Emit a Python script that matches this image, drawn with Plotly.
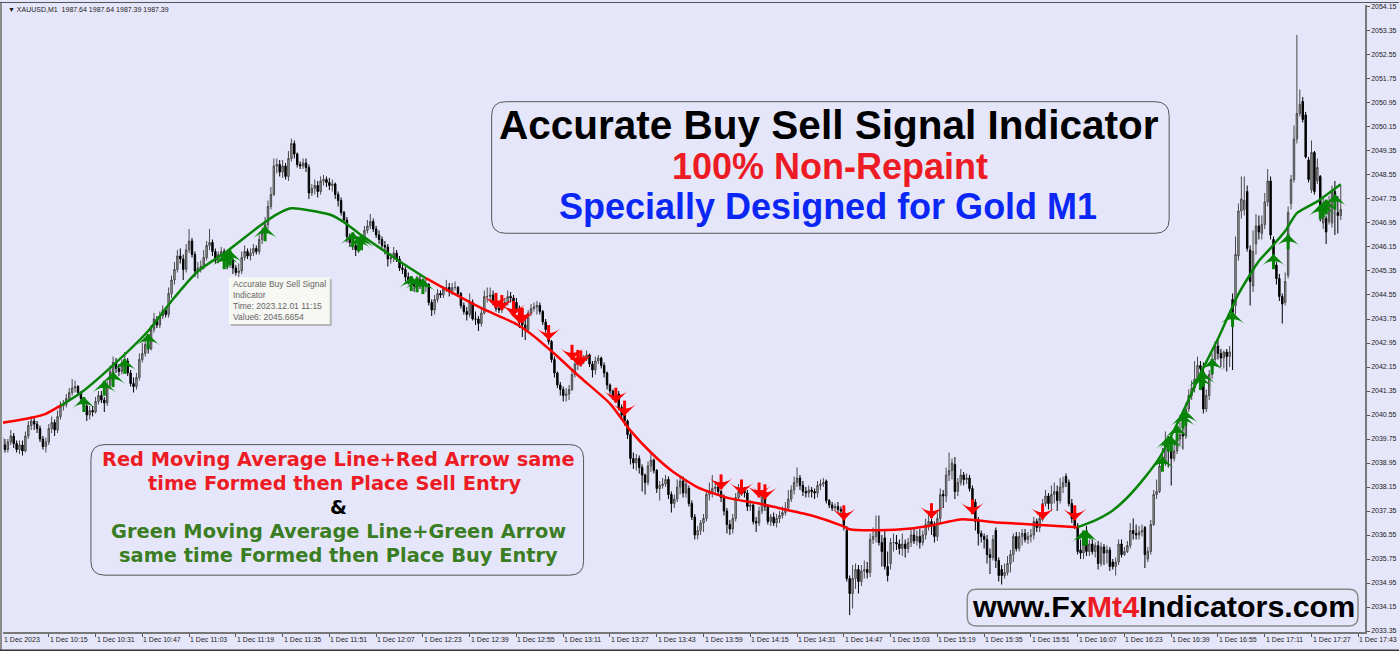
import plotly.graph_objects as go

# prices are stored minus this base to keep the lists short
PRICE_BASE = 2000

bar_open = [
    39.80, 39.55, 39.40, 39.65, 39.85, 39.60, 39.40, 39.55, 39.35, 39.85,
    40.20, 40.35, 40.25, 40.10, 39.75, 39.50, 39.65, 40.10, 40.30, 40.05,
    40.50, 40.85, 40.90, 41.10, 41.30, 41.45, 41.50, 41.30, 41.10, 40.85,
    40.55, 40.70, 40.65, 41.00, 41.20, 41.05, 40.95, 41.55, 42.00, 42.30,
    42.10, 42.00, 42.20, 42.35, 41.95, 41.60, 41.50, 41.80, 42.40, 42.60,
    42.90, 42.75, 43.40, 43.75, 43.55, 43.85, 44.05, 43.90, 44.60, 45.05,
    45.40, 45.85, 45.75, 45.40, 46.05, 46.35, 45.90, 45.35, 45.45, 45.50,
    45.80, 46.20, 46.30, 46.00, 45.70, 45.90, 46.00, 45.80, 45.55, 45.70,
    45.45, 45.30, 45.35, 45.80, 46.00, 45.85, 45.95, 46.10, 46.00, 46.40,
    46.60, 46.90, 47.50, 47.90, 48.85, 48.90, 48.65, 48.85, 48.50, 49.10,
    49.60, 49.25, 48.90, 48.85, 48.95, 48.80, 47.95, 48.10, 48.20, 48.00,
    48.35, 48.40, 48.30, 48.20, 48.25, 47.90, 47.70, 47.30, 47.05, 46.50,
    46.30, 46.20, 46.05, 46.30, 46.40, 46.70, 46.85, 47.00, 46.75, 46.55,
    46.40, 46.20, 46.15, 45.75, 45.80, 45.95, 45.75, 45.45, 45.40, 45.15,
    45.00, 44.95, 44.85, 45.05, 44.95, 44.85, 44.90, 44.30, 44.05, 44.40,
    44.60, 44.55, 44.75, 44.80, 44.65, 44.80, 44.80, 44.60, 44.20, 44.00,
    43.90, 44.30, 43.75, 43.75, 43.60, 43.95, 44.50, 44.50, 44.55, 44.30,
    44.10, 44.05, 44.20, 44.30, 44.50, 44.45, 44.30, 44.10, 43.70, 43.55,
    43.40, 43.95, 44.10, 44.15, 44.20, 44.00, 43.65, 43.40, 43.00, 42.40,
    41.95, 41.55, 41.40, 41.20, 41.25, 41.40, 41.90, 42.25, 42.30, 42.40,
    42.45, 42.55, 42.25, 42.05, 42.35, 42.45, 42.20, 41.95, 41.55, 41.35,
    41.15, 41.25, 40.80, 40.55, 40.35, 39.90, 39.10, 38.95, 39.10, 38.80,
    38.55, 38.30, 38.85, 39.05, 38.70, 38.10, 38.20, 38.25, 38.40, 37.90,
    37.60, 37.75, 38.15, 38.35, 37.95, 38.10, 37.60, 37.15, 36.55, 36.70,
    36.95, 37.10, 37.90, 38.00, 38.10, 38.15, 38.00, 37.80, 37.35, 36.90,
    36.75, 37.10, 37.80, 38.00, 38.10, 37.95, 37.50, 37.55, 37.00, 36.95,
    37.35, 37.90, 37.50, 37.00, 37.15, 36.95, 37.10, 37.20, 37.30, 37.45,
    37.75, 38.05, 38.30, 38.45, 38.20, 38.00, 37.95, 38.05, 38.00, 37.95,
    38.20, 38.25, 38.35, 37.70, 37.55, 37.45, 37.50, 37.40, 37.35, 36.70,
    35.10, 34.60, 35.10, 35.40, 35.00, 35.35, 35.40, 35.30, 36.40, 36.50,
    36.70, 36.30, 36.45, 35.50, 35.60, 36.30, 36.30, 36.25, 36.10, 36.25,
    36.10, 36.30, 36.55, 36.35, 36.50, 36.30, 36.55, 36.90, 37.00, 36.85,
    36.50, 37.10, 37.90, 37.85, 38.55, 38.70, 38.90, 38.00, 38.30, 38.55,
    38.40, 38.45, 38.10, 37.65, 37.05, 36.60, 36.50, 36.40, 35.90, 35.80,
    36.70, 35.70, 35.40, 35.20, 35.30, 35.60, 35.90, 36.50, 36.10, 36.50,
    36.60, 36.40, 36.50, 36.55, 37.00, 36.80, 37.10, 37.60, 37.85, 37.60,
    37.90, 38.00, 37.70, 38.15, 38.50, 38.30, 37.60, 37.10, 36.85, 36.05,
    35.95, 36.30, 36.00, 36.25, 36.00, 36.20, 35.60, 36.15, 35.95, 36.05,
    35.65, 35.50, 35.65, 36.25, 35.90, 36.00, 36.20, 36.70, 36.60, 36.55,
    36.65, 36.80, 35.75, 36.00, 36.90, 37.90, 38.00, 38.85, 39.00, 39.70,
    39.55, 39.10, 39.35, 39.75, 39.90, 39.85, 40.75, 41.20, 41.45, 41.75,
    42.20, 41.80, 40.75, 41.20, 41.90, 42.40, 42.85, 42.60, 42.45, 42.65,
    42.50, 44.40, 44.20, 45.85, 47.35, 47.40, 48.00, 46.05, 44.85, 46.25,
    46.85, 46.60, 46.90, 47.65, 48.35, 46.40, 45.55, 45.10, 44.50, 44.30,
    45.20, 47.60, 48.40, 49.75, 50.60, 51.00, 50.55, 49.05, 48.05, 49.30,
    48.35, 48.50, 46.95, 47.10, 47.00, 46.95, 48.00, 47.30, 47.20,
]
bar_high = [
    39.95, 39.75, 39.75, 40.05, 39.95, 39.70, 39.70, 39.70, 40.00, 40.35,
    40.50, 40.45, 40.35, 40.20, 39.85, 39.80, 40.25, 40.50, 40.40, 40.70,
    41.00, 41.05, 41.25, 41.45, 41.75, 41.70, 41.55, 41.35, 41.15, 40.95,
    40.85, 40.85, 41.15, 41.35, 41.35, 41.15, 41.70, 42.20, 42.50, 42.45,
    42.25, 42.40, 42.65, 42.45, 42.05, 41.80, 41.95, 42.60, 42.95, 43.10,
    43.05, 43.55, 43.95, 43.85, 44.00, 44.20, 44.15, 44.80, 45.20, 45.65,
    46.05, 46.10, 45.90, 46.25, 46.75, 46.45, 46.00, 45.65, 45.70, 46.05,
    46.35, 46.75, 46.40, 46.10, 46.00, 46.15, 46.10, 45.90, 45.90, 45.80,
    45.55, 45.60, 46.00, 46.20, 46.10, 46.10, 46.25, 46.20, 46.55, 46.80,
    47.15, 47.70, 48.15, 49.10, 49.10, 49.05, 49.05, 48.95, 49.35, 49.76,
    49.70, 49.30, 49.00, 49.10, 49.10, 48.90, 48.25, 48.40, 48.35, 48.50,
    48.55, 48.50, 48.45, 48.40, 48.30, 48.00, 47.80, 47.35, 47.15, 46.60,
    46.40, 46.30, 46.45, 46.55, 46.85, 47.05, 47.25, 47.10, 46.85, 46.70,
    46.50, 46.35, 46.25, 45.95, 46.15, 46.05, 45.85, 45.60, 45.50, 45.30,
    45.15, 45.05, 45.20, 45.25, 45.10, 45.10, 44.95, 44.40, 44.55, 44.75,
    44.70, 44.85, 45.05, 44.95, 44.95, 45.00, 44.85, 44.65, 44.30, 44.15,
    44.60, 44.40, 44.00, 43.85, 44.15, 44.70, 44.80, 44.80, 44.70, 44.45,
    44.35, 44.40, 44.45, 44.70, 44.65, 44.55, 44.45, 44.20, 43.85, 43.75,
    44.05, 44.25, 44.30, 44.35, 44.30, 44.05, 43.75, 43.50, 43.05, 42.50,
    42.00, 41.65, 41.50, 41.45, 41.55, 42.05, 42.40, 42.60, 42.60, 42.55,
    42.70, 42.60, 42.35, 42.50, 42.55, 42.50, 42.30, 42.00, 41.60, 41.40,
    41.45, 41.35, 40.90, 40.65, 40.40, 40.00, 39.30, 39.25, 39.20, 38.90,
    38.60, 39.00, 39.25, 39.10, 38.75, 38.35, 38.45, 38.55, 38.50, 38.00,
    37.90, 38.40, 38.50, 38.50, 38.40, 38.20, 37.70, 37.25, 36.85, 37.05,
    37.25, 38.05, 38.30, 38.55, 38.35, 38.20, 38.05, 37.90, 37.45, 37.05,
    37.25, 37.95, 38.25, 38.25, 38.15, 38.05, 37.70, 37.60, 37.15, 37.50,
    38.05, 38.10, 37.55, 37.25, 37.30, 37.25, 37.35, 37.50, 37.65, 38.05,
    38.20, 38.50, 38.80, 38.55, 38.35, 38.15, 38.20, 38.15, 38.10, 38.35,
    38.40, 38.45, 38.40, 37.75, 37.65, 37.60, 37.65, 37.50, 37.45, 36.85,
    35.20, 35.55, 35.60, 35.55, 35.55, 35.70, 35.65, 36.60, 36.80, 37.20,
    37.20, 36.55, 36.70, 36.00, 36.45, 36.60, 36.55, 36.40, 36.60, 36.40,
    36.45, 36.80, 36.75, 36.70, 36.75, 36.70, 37.10, 37.30, 37.10, 37.00,
    37.30, 38.10, 38.05, 38.80, 39.30, 39.10, 39.15, 38.45, 38.75, 38.65,
    38.60, 38.55, 38.20, 37.75, 37.15, 36.70, 36.60, 36.55, 36.10, 36.55,
    36.80, 35.80, 35.55, 35.60, 35.85, 36.05, 36.60, 36.65, 36.65, 36.75,
    36.75, 36.65, 36.75, 37.15, 37.10, 37.30, 37.75, 38.05, 37.95, 38.20,
    38.30, 38.20, 38.45, 38.50, 38.60, 38.40, 37.75, 37.20, 36.95, 36.40,
    36.60, 36.85, 36.40, 36.40, 36.30, 36.35, 36.30, 36.25, 36.20, 36.15,
    35.75, 35.80, 36.40, 36.40, 36.15, 36.35, 36.95, 37.10, 36.90, 36.85,
    36.90, 36.85, 36.15, 37.05, 38.05, 38.40, 39.00, 39.45, 40.00, 39.85,
    39.65, 39.60, 39.90, 40.55, 40.15, 40.95, 41.40, 41.70, 42.35, 42.50,
    42.35, 42.30, 41.40, 42.05, 42.60, 43.00, 43.05, 42.75, 42.70, 42.75,
    42.85, 44.60, 46.50, 47.60, 48.50, 48.50, 48.20, 46.20, 46.70, 47.25,
    47.20, 47.20, 47.95, 48.75, 48.50, 46.50, 45.65, 45.25, 44.60, 45.30,
    47.50, 48.55, 50.20, 53.22, 51.40, 51.15, 50.65, 49.15, 49.70, 49.35,
    49.10, 48.55, 47.80, 47.20, 47.85, 48.20, 48.35, 47.85, 48.20,
]
bar_low = [
    39.45, 39.30, 39.30, 39.55, 39.45, 39.30, 39.25, 39.20, 39.30, 39.75,
    40.05, 40.05, 39.95, 39.65, 39.40, 39.30, 39.55, 39.95, 39.85, 39.95,
    40.40, 40.70, 40.80, 41.00, 41.20, 41.30, 41.20, 41.00, 40.75, 40.35,
    40.40, 40.50, 40.60, 40.90, 40.95, 40.65, 40.85, 41.45, 41.95, 41.95,
    41.85, 41.90, 42.10, 41.85, 41.50, 41.30, 41.40, 41.70, 42.30, 42.50,
    42.60, 42.70, 43.30, 43.45, 43.45, 43.75, 43.80, 43.80, 44.45, 44.90,
    45.30, 45.60, 45.05, 45.30, 45.95, 45.80, 45.15, 45.10, 45.30, 45.40,
    45.70, 46.05, 45.85, 45.60, 45.60, 45.80, 45.65, 45.40, 45.45, 45.25,
    45.20, 45.15, 45.25, 45.70, 45.75, 45.70, 45.85, 45.90, 45.90, 46.25,
    46.40, 46.75, 47.40, 47.85, 48.60, 48.50, 48.45, 48.40, 48.35, 49.00,
    49.10, 48.80, 48.75, 48.75, 48.65, 47.75, 47.85, 47.90, 47.80, 47.90,
    48.20, 48.15, 48.05, 48.00, 47.75, 47.50, 47.20, 46.95, 46.30, 46.15,
    46.05, 45.85, 45.95, 46.20, 46.30, 46.60, 46.75, 46.65, 46.45, 46.25,
    46.10, 45.90, 45.50, 45.60, 45.65, 45.65, 45.35, 45.25, 45.00, 44.90,
    44.80, 44.65, 44.70, 44.75, 44.60, 44.65, 44.20, 43.85, 43.90, 44.30,
    44.45, 44.45, 44.65, 44.50, 44.55, 44.70, 44.55, 44.10, 43.90, 43.70,
    43.80, 43.70, 43.55, 43.35, 43.50, 43.90, 44.30, 44.35, 44.20, 44.00,
    43.95, 43.95, 44.10, 44.20, 44.30, 44.20, 44.00, 43.45, 43.15, 43.05,
    43.30, 43.85, 44.00, 43.90, 43.90, 43.55, 43.30, 42.90, 42.30, 41.80,
    41.45, 41.20, 41.00, 41.00, 41.05, 41.35, 41.80, 42.05, 42.15, 42.25,
    42.35, 42.15, 41.80, 41.90, 42.25, 42.10, 41.80, 41.40, 41.25, 41.05,
    41.00, 40.70, 40.45, 40.20, 39.75, 38.90, 38.75, 38.70, 38.60, 38.00,
    37.90, 38.20, 38.65, 38.60, 37.95, 37.70, 38.10, 38.15, 37.75, 37.30,
    37.45, 37.65, 37.90, 37.80, 37.80, 37.50, 37.05, 36.40, 36.40, 36.55,
    36.65, 37.00, 37.70, 37.80, 37.90, 37.85, 37.65, 37.20, 36.60, 36.55,
    36.60, 37.00, 37.70, 37.85, 37.80, 37.35, 37.35, 36.90, 36.65, 36.85,
    37.25, 37.35, 36.90, 36.85, 36.85, 36.80, 36.95, 37.10, 37.20, 37.35,
    37.65, 37.90, 38.15, 38.05, 37.85, 37.80, 37.80, 37.80, 37.75, 37.80,
    38.05, 38.15, 37.60, 37.45, 37.35, 37.35, 37.30, 37.15, 36.70, 35.00,
    33.88, 34.10, 34.75, 34.60, 34.85, 35.10, 35.10, 35.15, 36.25, 36.30,
    36.20, 35.50, 35.40, 35.00, 35.40, 36.00, 36.05, 35.90, 35.85, 35.80,
    35.95, 36.15, 36.25, 36.20, 36.10, 36.20, 36.40, 36.70, 36.55, 36.30,
    36.35, 36.90, 37.45, 37.65, 38.35, 38.40, 37.75, 37.85, 38.20, 38.20,
    38.25, 38.00, 37.50, 36.70, 36.20, 36.30, 36.10, 35.60, 35.25, 35.70,
    35.45, 35.00, 34.90, 35.10, 35.20, 35.30, 35.65, 36.00, 36.00, 36.20,
    36.30, 36.25, 36.30, 36.40, 36.65, 36.65, 37.00, 37.50, 37.40, 37.35,
    37.60, 37.35, 37.60, 37.95, 38.15, 37.50, 36.95, 36.75, 35.90, 35.75,
    35.75, 35.85, 35.85, 35.90, 35.80, 35.40, 35.50, 35.55, 35.60, 35.35,
    35.40, 35.20, 35.55, 35.80, 35.85, 35.95, 36.10, 36.40, 36.40, 36.40,
    36.50, 35.45, 35.65, 35.90, 36.85, 37.75, 37.95, 38.70, 38.85, 38.80,
    38.20, 39.00, 39.25, 39.55, 39.40, 39.75, 40.65, 41.05, 41.30, 41.60,
    41.90, 40.60, 40.65, 41.05, 41.75, 42.25, 42.40, 42.15, 42.10, 42.00,
    42.15, 42.05, 43.90, 45.70, 47.10, 47.20, 46.00, 44.20, 44.65, 45.90,
    46.40, 46.40, 46.75, 47.50, 46.40, 45.50, 44.90, 44.35, 43.60, 44.20,
    45.10, 47.40, 48.30, 49.60, 50.50, 50.30, 49.10, 48.30, 47.95, 47.90,
    48.25, 47.00, 46.75, 46.25, 46.90, 46.80, 46.55, 46.60, 47.05,
]
bar_close = [
    39.55, 39.40, 39.65, 39.85, 39.60, 39.40, 39.55, 39.35, 39.85, 40.20,
    40.35, 40.25, 40.10, 39.75, 39.50, 39.65, 40.10, 40.30, 40.05, 40.50,
    40.85, 40.90, 41.10, 41.30, 41.45, 41.50, 41.30, 41.10, 40.85, 40.55,
    40.70, 40.65, 41.00, 41.20, 41.05, 40.95, 41.55, 42.00, 42.30, 42.10,
    42.00, 42.20, 42.35, 41.95, 41.60, 41.50, 41.80, 42.40, 42.60, 42.90,
    42.75, 43.40, 43.75, 43.55, 43.85, 44.05, 43.90, 44.60, 45.05, 45.40,
    45.85, 45.75, 45.40, 46.05, 46.35, 45.90, 45.35, 45.45, 45.50, 45.80,
    46.20, 46.30, 46.00, 45.70, 45.90, 46.00, 45.80, 45.55, 45.70, 45.45,
    45.30, 45.35, 45.80, 46.00, 45.85, 45.95, 46.10, 46.00, 46.40, 46.60,
    46.90, 47.50, 47.90, 48.85, 48.90, 48.65, 48.85, 48.50, 49.10, 49.60,
    49.25, 48.90, 48.85, 48.95, 48.80, 47.95, 48.10, 48.20, 48.00, 48.35,
    48.40, 48.30, 48.20, 48.25, 47.90, 47.70, 47.30, 47.05, 46.50, 46.30,
    46.20, 46.05, 46.30, 46.40, 46.70, 46.85, 47.00, 46.75, 46.55, 46.40,
    46.20, 46.15, 45.75, 45.80, 45.95, 45.75, 45.45, 45.40, 45.15, 45.00,
    44.95, 44.85, 45.05, 44.95, 44.85, 44.90, 44.30, 44.05, 44.40, 44.60,
    44.55, 44.75, 44.80, 44.65, 44.80, 44.80, 44.60, 44.20, 44.00, 43.90,
    44.30, 43.75, 43.75, 43.60, 43.95, 44.50, 44.50, 44.55, 44.30, 44.10,
    44.05, 44.20, 44.30, 44.50, 44.45, 44.30, 44.10, 43.70, 43.55, 43.40,
    43.95, 44.10, 44.15, 44.20, 44.00, 43.65, 43.40, 43.00, 42.40, 41.95,
    41.55, 41.40, 41.20, 41.25, 41.40, 41.90, 42.25, 42.30, 42.40, 42.45,
    42.55, 42.25, 42.05, 42.35, 42.45, 42.20, 41.95, 41.55, 41.35, 41.15,
    41.25, 40.80, 40.55, 40.35, 39.90, 39.10, 38.95, 39.10, 38.80, 38.55,
    38.30, 38.85, 39.05, 38.70, 38.10, 38.20, 38.25, 38.40, 37.90, 37.60,
    37.75, 38.15, 38.35, 37.95, 38.25, 37.60, 37.15, 36.55, 36.70, 36.95,
    37.10, 37.90, 38.00, 38.10, 38.15, 38.00, 37.80, 37.35, 36.90, 36.75,
    37.10, 37.80, 38.00, 38.10, 37.95, 37.50, 37.55, 37.00, 36.95, 37.35,
    37.90, 37.50, 37.00, 37.15, 36.95, 37.10, 37.20, 37.30, 37.45, 37.75,
    38.05, 38.30, 38.45, 38.20, 38.00, 37.95, 38.05, 38.00, 37.95, 38.20,
    38.25, 38.30, 37.70, 37.55, 37.45, 37.50, 37.40, 37.35, 36.85, 35.10,
    34.60, 35.10, 35.40, 35.00, 35.35, 35.40, 35.30, 36.40, 36.50, 36.70,
    36.30, 36.00, 35.50, 35.20, 36.30, 36.30, 36.25, 36.10, 36.25, 36.10,
    36.30, 36.55, 36.35, 36.50, 36.30, 36.55, 36.90, 37.00, 36.85, 36.50,
    37.10, 37.90, 37.85, 38.55, 38.70, 38.95, 38.00, 38.30, 38.55, 38.40,
    38.45, 38.10, 37.65, 37.00, 36.60, 36.50, 36.40, 35.90, 35.80, 36.40,
    35.70, 35.20, 35.20, 35.30, 35.60, 35.90, 36.50, 36.10, 36.50, 36.60,
    36.40, 36.50, 36.55, 37.00, 36.80, 37.10, 37.60, 37.85, 37.60, 37.90,
    38.00, 37.70, 38.15, 38.30, 38.30, 37.60, 37.10, 36.85, 36.00, 35.95,
    36.30, 36.00, 36.25, 36.00, 36.20, 35.60, 36.15, 35.95, 36.05, 35.50,
    35.50, 35.65, 36.25, 35.90, 36.00, 36.20, 36.70, 36.60, 36.55, 36.65,
    36.70, 35.90, 36.00, 36.90, 37.90, 38.00, 38.85, 39.00, 39.70, 39.55,
    39.10, 39.35, 39.75, 39.90, 39.85, 40.75, 41.20, 41.45, 41.75, 42.20,
    42.10, 40.75, 41.20, 41.90, 42.40, 42.85, 42.60, 42.45, 42.65, 42.50,
    42.65, 43.60, 45.90, 47.35, 47.75, 47.70, 46.10, 45.00, 46.00, 46.85,
    46.65, 46.90, 47.65, 48.35, 46.55, 45.70, 45.10, 44.50, 44.25, 45.00,
    47.30, 48.40, 49.75, 50.60, 50.90, 50.40, 49.15, 48.40, 49.30, 48.00,
    48.80, 47.10, 47.55, 46.65, 47.65, 48.00, 47.70, 47.20, 47.40,
]

# moving average, split where it changes colour
ma_red1_bars = [0, 10, 15, 20]
ma_red1 = [40.29, 40.46, 40.59, 40.86]
ma_green1_bars = [20, 27, 37, 50, 58, 67, 77, 88, 94, 99, 107, 113, 118, 122, 130, 137, 145]
ma_green1 = [40.86, 41.29, 42.12, 43.35, 44.35, 45.34, 46.01, 46.84, 47.24, 47.44, 47.34, 47.20,
             46.91, 46.61, 46.07, 45.61, 45.11]
ma_red2_bars = [145, 153, 164, 176, 181, 189, 198, 208, 215, 222, 229, 238, 249, 259, 266, 277,
                287, 290, 300, 311, 318, 328, 340, 351, 368]
ma_red2 = [45.11, 44.68, 44.11, 43.58, 43.25, 42.59, 41.79, 40.93, 40.03, 39.30, 38.70, 38.14,
           37.77, 37.60, 37.44, 37.20, 36.87, 36.74, 36.71, 36.77, 36.87, 37.07, 36.97, 36.91, 36.81]
ma_green2_bars = [368, 374, 380, 385, 391, 396, 400, 405, 410, 416, 423, 430, 434, 439, 443, 450, 458]
ma_green2 = [36.81, 37.04, 37.37, 37.80, 38.47, 39.13, 39.86, 40.86, 41.93, 43.09, 44.58, 45.68,
             46.11, 46.68, 47.28, 47.67, 48.24]

# signal arrows, price is where the arrow tip sits
buy_bars = [28, 35, 38, 42, 50, 76, 77, 78, 90, 120, 122, 123, 140, 142, 144, 370, 371, 397, 399,
            400, 402, 404, 405, 410, 411, 414, 421, 435, 440, 451, 452, 453, 456]
buy_tips = [41.15, 41.69, 41.98, 42.42, 43.25, 45.91, 45.97, 46.04, 46.84, 46.64, 46.50, 46.54,
            45.18, 45.14, 45.08, 36.70, 36.70, 39.16, 39.83, 39.83, 40.19, 40.59, 40.69, 41.88,
            41.99, 42.42, 43.98, 45.91, 46.57, 47.57, 47.63, 47.73, 47.90]
sell_bars = [169, 171, 175, 177, 178, 187, 195, 197, 198, 210, 213, 246, 253, 259, 261, 288, 318,
             332, 356, 367]
sell_tips = [44.12, 44.05, 43.85, 43.62, 43.62, 43.05, 42.39, 42.22, 42.19, 40.96, 40.53, 38.07,
             37.90, 37.80, 37.74, 37.04, 37.11, 37.24, 37.07, 37.04]

tick_bars = list(range(0, 465, 16))
tick_labels = [
    "1 Dec 2023", "1 Dec 10:15", "1 Dec 10:31", "1 Dec 10:47", "1 Dec 11:03", "1 Dec 11:19",
    "1 Dec 11:35", "1 Dec 11:51", "1 Dec 12:07", "1 Dec 12:23", "1 Dec 12:39", "1 Dec 12:55",
    "1 Dec 13:11", "1 Dec 13:27", "1 Dec 13:43", "1 Dec 13:59", "1 Dec 14:15", "1 Dec 14:31",
    "1 Dec 14:47", "1 Dec 15:03", "1 Dec 15:19", "1 Dec 15:35", "1 Dec 15:51", "1 Dec 16:07",
    "1 Dec 16:23", "1 Dec 16:39", "1 Dec 16:55", "1 Dec 17:11", "1 Dec 17:27", "1 Dec 17:43",
]

BG = "#e6e6fa"
RED = "#ff0000"
GREEN = "#078407"
W, H = 1400, 651
ML, MR, MT, MB = 3, 34, 3, 19
PW, PH = W - ML - MR, H - MT - MB
X_START = 0.34


def px(x):
    return (x - ML) / PW


def py(y):
    return 1 - (y - MT) / PH


def prices(vals):
    return [PRICE_BASE + v for v in vals]


def round_box(x0, y0, x1, y1, r, color="#555555", width=1, fill=None):
    # rounded rectangle given in page pixels
    rx, ry = r / PW, r / PH
    a, b, c, d = px(x0), px(x1), py(y0), py(y1)
    path = (f"M {a + rx},{c} L {b - rx},{c} Q {b},{c} {b},{c - ry} L {b},{d + ry} Q {b},{d} {b - rx},{d} "
            f"L {a + rx},{d} Q {a},{d} {a},{d + ry} L {a},{c - ry} Q {a},{c} {a + rx},{c} Z")
    return dict(type="path", path=path, xref="paper", yref="paper", layer="above",
                line=dict(color=color, width=width), fillcolor=fill or "rgba(0,0,0,0)")


def pixel_rect(x0, y0, x1, y1, color):
    return dict(type="rect", xref="paper", yref="paper", x0=px(x0), x1=px(x1), y0=py(y0), y1=py(y1),
                line=dict(width=0), fillcolor=color, layer="above")


def label(x, y, text, size, color, family="Liberation Sans", anchor="center", **kw):
    return dict(x=px(x), y=py(y), xref="paper", yref="paper", text=text, showarrow=False,
                xanchor=anchor, yanchor="middle", align="left" if anchor == "left" else "center",
                font=dict(family=family, size=size, color=color), **kw)


fig = go.Figure()

fig.add_trace(go.Candlestick(
    x=list(range(len(bar_open))),
    open=prices(bar_open), high=prices(bar_high), low=prices(bar_low), close=prices(bar_close),
    increasing=dict(line=dict(color="#4a4a4a", width=1), fillcolor="#a6a6a6"),
    decreasing=dict(line=dict(color="#000000", width=1), fillcolor="#000000"),
    whiskerwidth=0,
))

for bars, vals, color in [(ma_red1_bars, ma_red1, RED), (ma_green1_bars, ma_green1, GREEN),
                          (ma_red2_bars, ma_red2, RED), (ma_green2_bars, ma_green2, GREEN)]:
    fig.add_trace(go.Scatter(x=bars, y=prices(vals), mode="lines",
                             line=dict(color=color, width=2.5, shape="spline", smoothing=0.6)))

# head is the marker, the shaft is a one sided error bar
fig.add_trace(go.Scatter(
    x=buy_bars, y=prices(buy_tips), mode="markers",
    marker=dict(symbol="arrow-wide", size=17, color=GREEN, angle=0),
    error_y=dict(type="constant", value=0, valueminus=0.5, symmetric=False, width=0, thickness=3, color=GREEN),
))
fig.add_trace(go.Scatter(
    x=sell_bars, y=prices(sell_tips), mode="markers",
    marker=dict(symbol="arrow-wide", size=17, color=RED, angle=180),
    error_y=dict(type="constant", value=0.5, valueminus=0, symmetric=False, width=0, thickness=3, color=RED),
))

annotations = [
    label(6, 7.5, "▼ XAUUSD,M1  1987.64 1987.64 1987.39 1987.39", 7, "#222222", anchor="left"),
    label(830, 123, "<b>Accurate Buy Sell Signal Indicator</b>", 40.5, "#000000"),
    label(831, 165, "<b>100% Non-Repaint</b>", 36, "#ed1c24"),
    label(829, 205, "<b>Specially Designed for Gold M1</b>", 36, "#0a27f5"),
    label(339, 459, "<b>Red Moving Average Line+Red Arrow same</b>", 19.4, "#ed1c24", "DejaVu Sans"),
    label(335, 483, "<b>time Formed then Place Sell Entry</b>", 19.4, "#ed1c24", "DejaVu Sans"),
    label(339, 507, "<b>&</b>", 19.4, "#000000", "DejaVu Sans"),
    label(339, 531, "<b>Green Moving Average Line+Green Arrow</b>", 19.4, "#3a7d22", "DejaVu Sans"),
    label(339, 555, "<b>same time Formed then Place Buy Entry</b>", 19.4, "#3a7d22", "DejaVu Sans"),
    label(1164, 606, '<b>www.Fx<span style="color:#ed1c24">Mt4</span>Indicators.com</b>', 30.4, "#000000"),
    label(231, 299, "Accurate Buy Sell Signal<br>Indicator<br>Time: 2023.12.01 11:15<br>Value6: 2045.6654",
          8.5, "#666666", anchor="left"),
]
for bar, text in zip(tick_bars, tick_labels):
    annotations.append(dict(x=max(bar, X_START), y=0, xref="x", yref="paper", text=text, showarrow=False,
                            xanchor="left", yanchor="top", yshift=-2, xshift=-1,
                            font=dict(family="Liberation Sans", size=7, color="#222222")))

shapes = [
    round_box(492, 100, 1170, 232, 14),
    round_box(91, 444, 584, 575, 14),
    round_box(968, 589, 1359, 626, 9, color="#8a8a8a", width=1.5),
    pixel_rect(231, 278, 332, 325, "#b5b5b5"),
    pixel_rect(229, 276, 330, 323, "#f7f7f3"),
    pixel_rect(0, 0, 2, 651, "#8c8c8c"),
    pixel_rect(0, 0, 1400, 1, "#555555"),
    pixel_rect(0, 649.5, 1400, 651, "#333333"),
]

fig.update_layout(
    width=W, height=H, autosize=False,
    margin=dict(l=ML, r=MR, t=MT, b=MB),
    paper_bgcolor=BG, plot_bgcolor=BG,
    showlegend=False,
    shapes=shapes, annotations=annotations,
    xaxis=dict(range=[X_START, 466.3], rangeslider=dict(visible=False), showgrid=False, zeroline=False,
               tickmode="array", tickvals=tick_bars, ticktext=[""] * len(tick_bars),
               ticks="outside", ticklen=3, tickcolor="#555555",
               showline=True, linecolor="#777777", linewidth=1.5),
    yaxis=dict(range=[2033.317, 2054.216], side="right", showgrid=False, zeroline=False,
               tick0=2033.35, dtick=0.8, tickformat=".2f", ticks="outside", ticklen=3, tickcolor="#555555",
               tickfont=dict(family="Liberation Sans", size=7, color="#222222"),
               showline=True, linecolor="#777777", linewidth=1.5),
)

# the page must sit flush with the window, as the reference does
fig.write_html("out.html", config=dict(displayModeBar=False),
               post_script="document.body.style.margin='0';")
